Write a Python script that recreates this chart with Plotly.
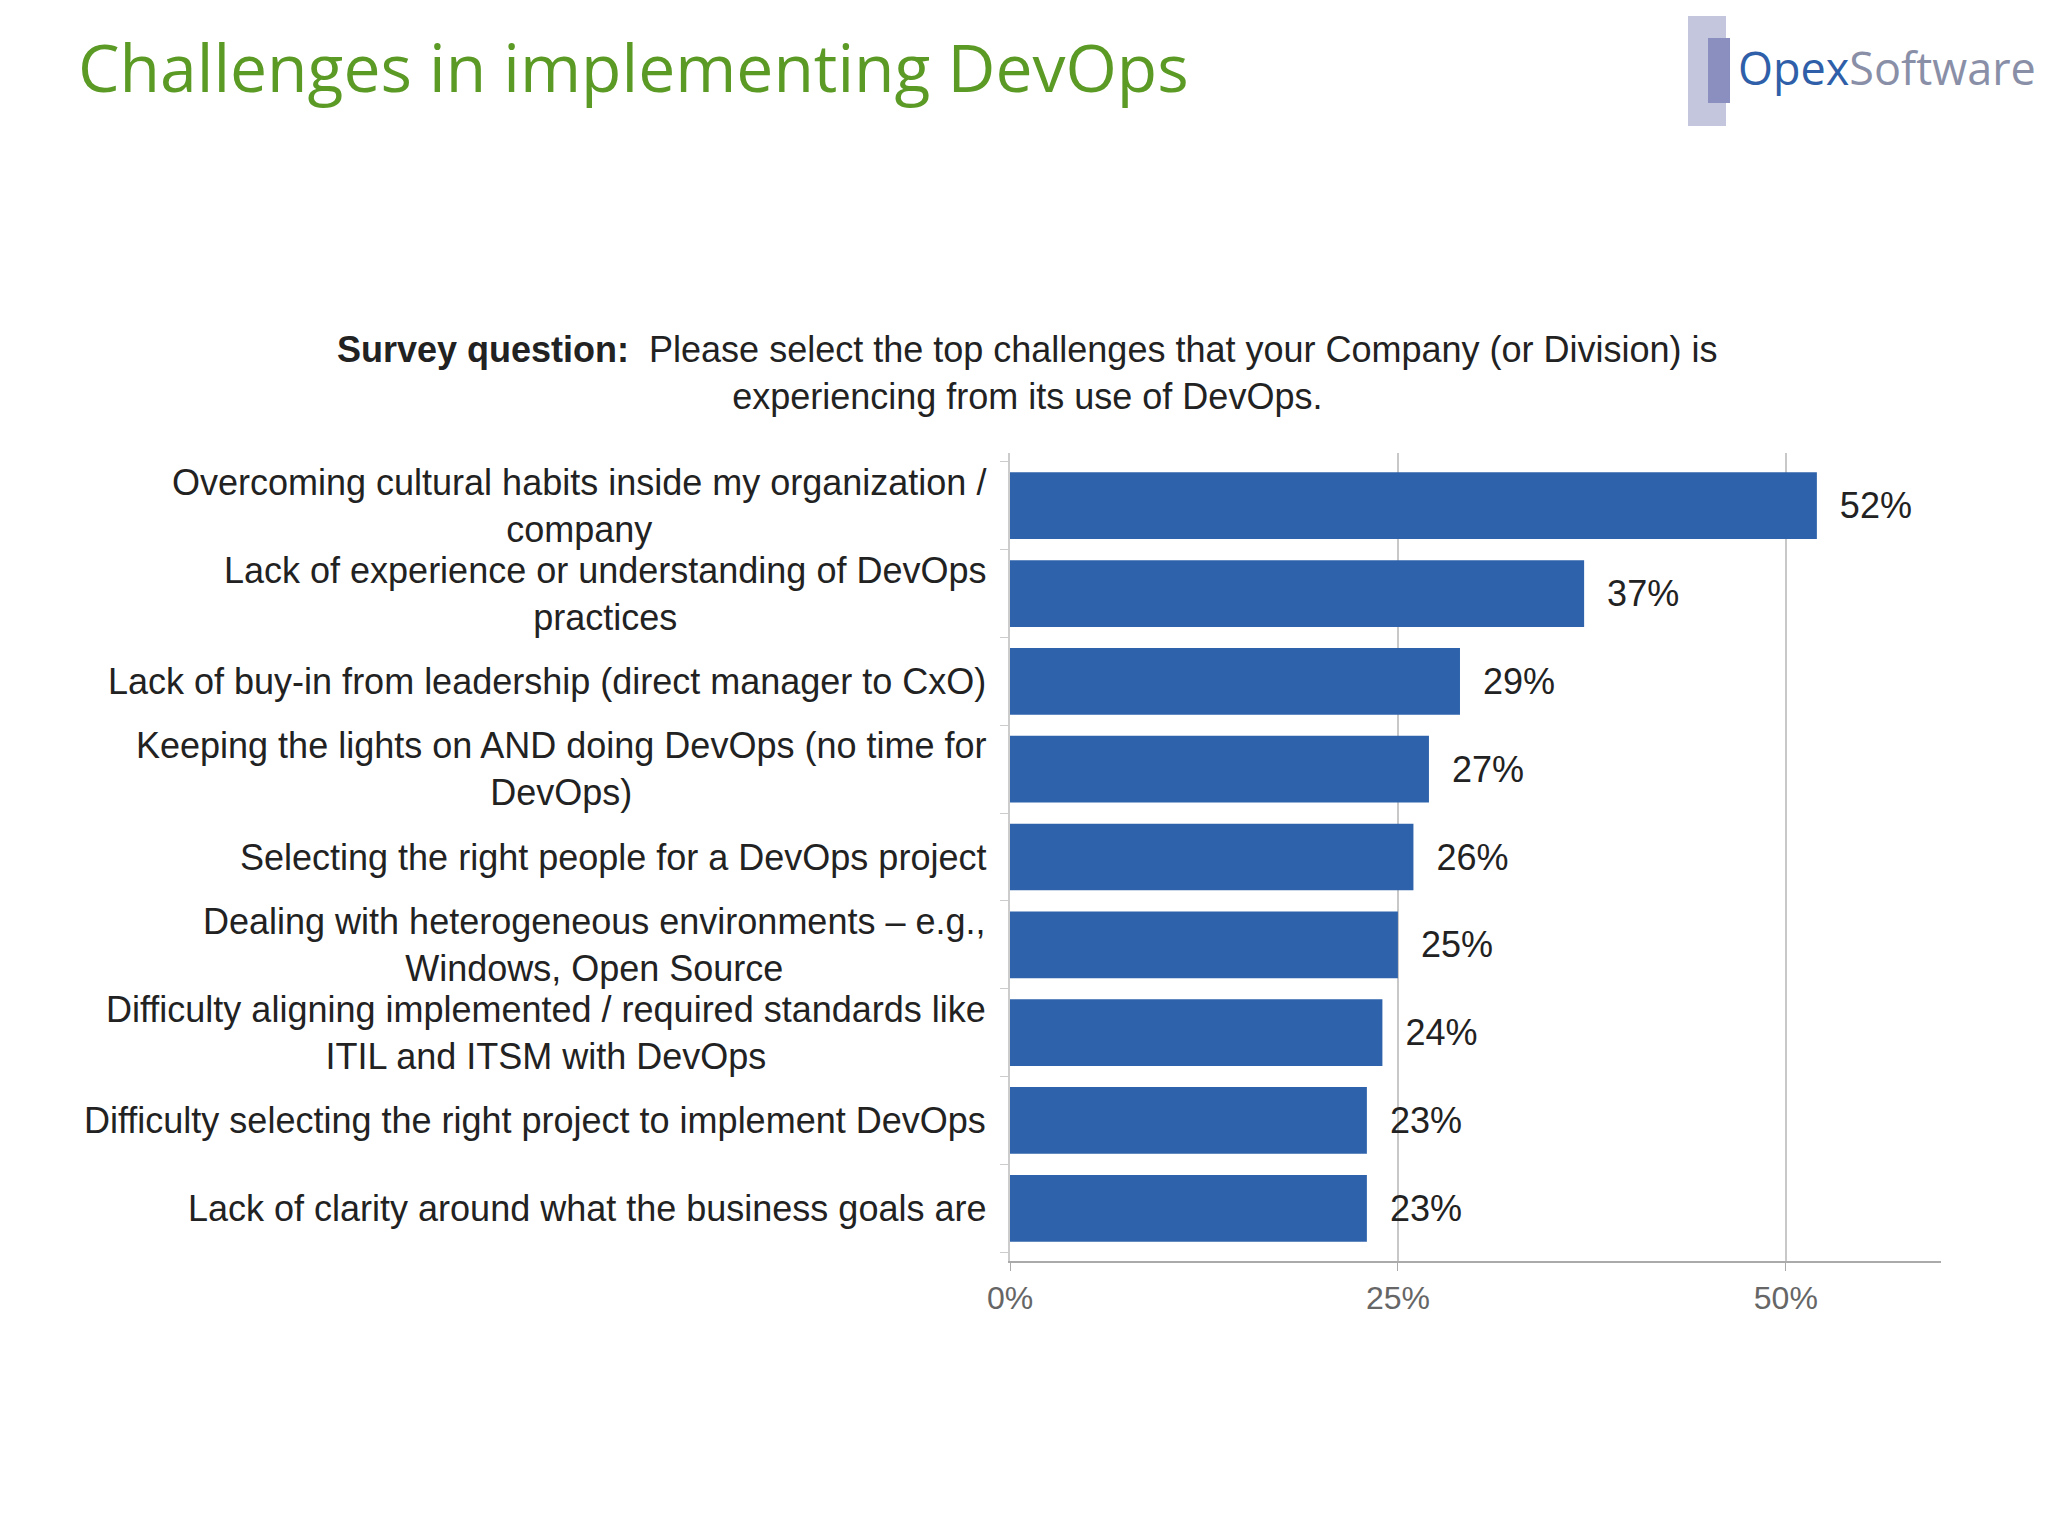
import plotly.graph_objects as go

categories = [
    "Overcoming cultural habits inside my organization /<br>company",
    "Lack of experience or understanding of DevOps<br>practices",
    "Lack of buy-in from leadership (direct manager to CxO)",
    "Keeping the lights on AND doing DevOps (no time for<br>DevOps)",
    "Selecting the right people for a DevOps project",
    "Dealing with heterogeneous environments – e.g.,<br>Windows, Open Source",
    "Difficulty aligning implemented / required standards like<br>ITIL and ITSM with DevOps",
    "Difficulty selecting the right project to implement DevOps",
    "Lack of clarity around what the business goals are",
]
values = [52, 37, 29, 27, 26, 25, 24, 23, 23]
tick_vals = [0, 25, 50]
tick_text = ["0%", "25%", "50%"]

W, H = 2048, 1536
L, R, T, B = 1002, 2048 - 1933, 445, 1536 - 1253
PW, PH = W - L - R, H - T - B

def px(x):
    return (x - L) / PW

def py(y):
    return (H - B - y) / PH

fig = go.Figure(go.Bar(
    x=values, y=list(range(len(values))), orientation="h",
    marker=dict(color="#2e63ab", line=dict(width=0)), width=0.76,
    text=[f"  {v}%" for v in values], textposition="outside",
    textfont=dict(family="Liberation Sans, Arial", size=36, color="#222"),
    cliponaxis=False,
))
for i, c in enumerate(categories):
    fig.add_annotation(x=px(980), xref="paper", y=i, yref="y", text=c,
                       xanchor="right", align="center", showarrow=False,
                       font=dict(family="Liberation Sans, Arial", size=36, color="#222"))

fig.update_layout(
    width=W, height=H, margin=dict(l=L, r=R, t=T, b=B),
    paper_bgcolor="white", plot_bgcolor="white", showlegend=False,
    xaxis=dict(range=[0, 60], tickvals=tick_vals, ticktext=tick_text,
               showgrid=True, gridcolor="#c8c8c8", gridwidth=2,
               showline=True, linecolor="#aaa", linewidth=2, zeroline=False,
               ticks="outside", ticklen=8, tickcolor="#aaa",
               tickfont=dict(family="Liberation Sans, Arial", size=32, color="#666")),
    yaxis=dict(range=[8.6, -0.6], showticklabels=False, showgrid=False,
               showline=True, linecolor="#ccc", linewidth=2, zeroline=False,
               ticks="outside", ticklen=8, tickcolor="#ccc",
               tickvals=[i + 0.5 for i in range(-1, 9)]),
    font=dict(family="Liberation Sans, Arial"),
)
fig.add_annotation(x=px(68), y=py(58), xref="paper", yref="paper",
                   text="Challenges in implementing DevOps", showarrow=False,
                   xanchor="left", yanchor="middle",
                   font=dict(family="Open Sans, Noto Sans", size=66, color="#5b9a25"))
fig.add_annotation(x=px(1019), y=py(365), xref="paper", yref="paper",
                   text="<b>Survey question:</b>  Please select the top challenges that your Company (or Division) is<br>experiencing from its use of DevOps.",
                   showarrow=False, xanchor="center", yanchor="middle", align="center",
                   font=dict(family="Liberation Sans, Arial", size=36, color="#222"))
# logo
fig.add_shape(type="rect", xref="paper", yref="paper", x0=px(1680), x1=px(1718),
              y0=py(118), y1=py(8), fillcolor="#c4c6de", line=dict(width=0))
fig.add_shape(type="rect", xref="paper", yref="paper", x0=px(1700), x1=px(1722),
              y0=py(95), y1=py(30), fillcolor="#8a8fbf", line=dict(width=0))
fig.add_annotation(x=px(1728), y=py(60), xref="paper", yref="paper",
                   text="<span style='color:#2f5fa8'>Opex</span><span style='color:#8a8fa8'>Software</span>",
                   showarrow=False, xanchor="left", yanchor="middle",
                   font=dict(family="Open Sans", size=45))
fig.write_html("out.html")
